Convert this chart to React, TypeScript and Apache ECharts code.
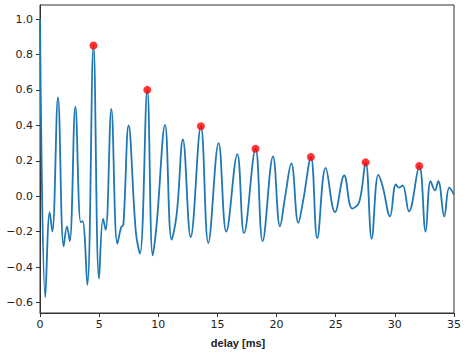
import React, { useEffect, useRef } from 'react';
import * as echarts from 'echarts';

// Autocorrelation curve (delay in ms, normalised amplitude)
const delayMs = [
  0, 0.45, 0.82, 1.04, 1.52, 2.0, 2.28, 2.51, 2.99, 3.44, 3.6, 4.0, 4.52, 4.99, 5.33, 5.55,
  6.03, 6.54, 6.87, 7.05, 7.49, 8.1, 8.45, 9.07, 9.53, 9.86, 10.57, 11.13, 11.56, 12.08,
  12.74, 13.6, 14.23, 15.1, 15.75, 16.68, 17.25, 18.22, 18.82, 19.7, 20.29, 20.71, 21.25,
  21.84, 22.26, 22.9, 23.44, 24.15, 24.94, 25.72, 26.4, 26.99, 27.53, 28.04, 28.6, 28.97,
  29.59, 30.09, 30.37, 30.66, 31.19, 32.06, 32.6, 33.02, 33.39, 33.67, 34.18, 34.6, 35,
];
const amplitude = [
  1.0, -0.57, -0.09, -0.2, 0.558, -0.283, -0.17, -0.253, 0.506, -0.146, -0.14, -0.5, 0.85,
  -0.465, -0.127, -0.19, 0.493, -0.268, -0.174, -0.16, 0.399, -0.2, -0.324, 0.6, -0.334,
  -0.159, 0.403, -0.245, -0.099, 0.32, -0.23, 0.395, -0.264, 0.3, -0.2, 0.238, -0.208, 0.268,
  -0.253, 0.224, -0.17, -0.008, 0.185, -0.15, -0.02, 0.221, -0.237, 0.16, -0.09, 0.117,
  -0.07, -0.033, 0.191, -0.24, 0.12, 0.055, -0.114, 0.066, 0.048, 0.061, -0.086, 0.17, -0.2,
  0.085, 0.033, 0.085, -0.114, 0.048, 0.01,
];

// Marked peaks
const peakDelayMs = [4.52, 9.07, 13.6, 18.22, 22.9, 27.53, 32.06];
const peakAmplitude = [0.85, 0.6, 0.395, 0.268, 0.221, 0.191, 0.17];

// Axes
const xMin = 0;
const xMax = 35;
const xInterval = 5;
const yMin = -0.659;
const yMax = 1.079;
const yTickValues = [-0.6, -0.4, -0.2, 0, 0.2, 0.4, 0.6, 0.8, 1.0];
const xAxisTitle = 'delay [ms]';

const fmt = (v: number) => v.toFixed(1).replace('-', '\u2212');

export default function App() {
  const ref = useRef<HTMLDivElement>(null);

  useEffect(() => {
    if (!ref.current) return;
    const chart = echarts.init(ref.current, null, { renderer: 'svg' });
    const lineData = delayMs.map((d, i) => [d, amplitude[i]]);
    const peakData = peakDelayMs.map((d, i) => [d, peakAmplitude[i]]);
    const axisColor = '#333';
    const labelStyle = {
      color: '#222',
      fontFamily: 'DejaVu Sans',
      fontSize: 11,
    };
    chart.setOption({
      animation: false,
      backgroundColor: '#fff',
      grid: {
        left: 40,
        right: 20,
        top: 5,
        bottom: 43,
        show: true,
        borderColor: axisColor,
        borderWidth: 1,
        backgroundColor: 'transparent',
      },
      xAxis: {
        type: 'value',
        min: xMin,
        max: xMax,
        interval: xInterval,
        axisLine: { show: true, onZero: false, lineStyle: { color: axisColor, width: 1 } },
        axisTick: { show: true, length: 4, lineStyle: { color: axisColor } },
        axisLabel: { ...labelStyle, margin: 6 },
        splitLine: { show: false },
      },
      yAxis: {
        type: 'value',
        min: yMin,
        max: yMax,
        axisLine: { show: true, onZero: false, lineStyle: { color: axisColor, width: 1 } },
        axisTick: {
          show: true,
          length: 4,
          lineStyle: { color: axisColor },
          customValues: yTickValues,
        },
        axisLabel: {
          ...labelStyle,
          margin: 7,
          customValues: yTickValues,
          formatter: (v: number) => fmt(v),
        },
        splitLine: { show: false },
      },
      graphic: [
        {
          type: 'text',
          x: 238,
          y: 343,
          style: {
            text: xAxisTitle,
            fill: '#222',
            font: 'bold 11px "Liberation Sans", Arial, sans-serif',
            textAlign: 'center',
            textVerticalAlign: 'middle',
          },
        },
      ],
      series: [
        {
          type: 'line',
          data: lineData,
          smooth: 0.4,
          showSymbol: false,
          lineStyle: { color: '#1f77b4', width: 1.8 },
          z: 2,
        },
        {
          type: 'scatter',
          data: peakData,
          symbol: 'circle',
          symbolSize: 8,
          itemStyle: { color: '#ff0000' },
          z: 3,
        },
      ],
    });
    return () => chart.dispose();
  }, []);

  return (
    <div
      ref={ref}
      style={{ position: 'absolute', left: 0, top: 0, width: 474, height: 356 }}
    />
  );
}
